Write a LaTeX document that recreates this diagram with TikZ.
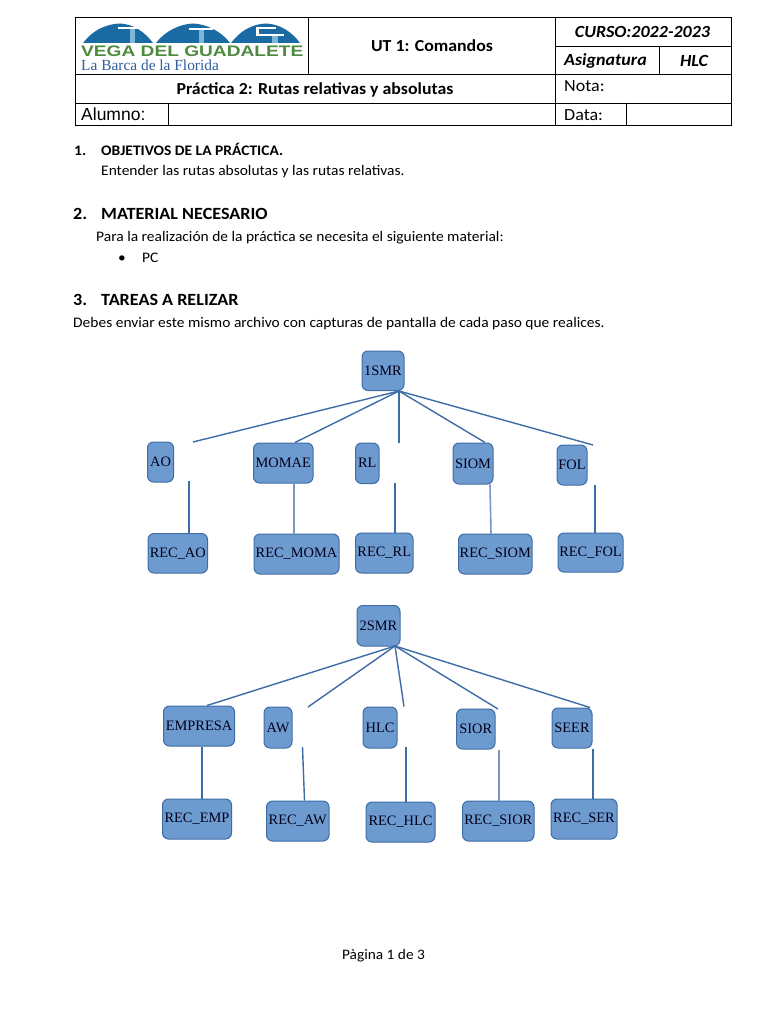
\documentclass[tikz,border=0pt]{standalone}
\usepackage{fontspec}
\setmainfont[FakeStretch=1.06]{Carlito}
\newfontfamily\arialf{Liberation Sans}
\newfontfamily\logof[FakeStretch=1.25]{Liberation Sans}
\newfontfamily\timesf{Liberation Serif}
\definecolor{boxfill}{HTML}{6D9BD0}
\definecolor{boxline}{HTML}{3E6CA6}
\definecolor{logoblue}{HTML}{1A6BA3}
\definecolor{logopale}{HTML}{7FB6D8}
\definecolor{logogreen}{HTML}{4E8B3E}
\definecolor{logotext}{HTML}{2F5F9E}
\tikzset{
  grid/.style={draw=black,line width=0.9pt},
  cell/.style={inner sep=0pt,text=black,font=\fontsize{16.8}{18}\selectfont\bfseries},
  italcell/.style={cell,font=\fontsize{17}{18}\selectfont\bfseries\itshape},
  plaincell/.style={inner sep=0pt,text=black,anchor=west,font=\fontsize{17}{19}\selectfont},
  body/.style={inner sep=0pt,anchor=base west,text=black,font=\fontsize{14.6}{16}\selectfont},
  smallhead/.style={inner sep=0pt,anchor=base west,text=black,font=\fontsize{14.6}{16}\selectfont\bfseries},
  bighead/.style={inner sep=0pt,anchor=base west,text=black,font=\fontsize{17.1}{19}\selectfont\bfseries},
  tbox/.style={draw=boxline,fill=boxfill,line width=1pt,rounded corners=6pt,inner sep=0pt,text=black!90!blue,font=\timesf\fontsize{14.4}{16}\selectfont},
  link/.style={draw=boxline,line width=1.4pt},
  palelink/.style={draw=boxline!70,line width=1.6pt},
}
\newcommand{\tb}[6]{\node[tbox,minimum width=#4pt-#2pt,minimum height=#5pt-#3pt] (#1) at ({(#2+#4)/2},{(#3+#5)/2}) {\raisebox{-0.7pt}{#6}};}
\begin{document}
\begin{tikzpicture}[x=1pt,y=-1pt]
\useasboundingbox[fill=white] (0,0) rectangle (768,1024);
% header table
\draw[grid] (75,17) rectangle (731,125);
\draw[grid] (75,74) -- (731,74);
\draw[grid] (75,103) -- (731,103);
\draw[grid] (308,17) -- (308,74);
\draw[grid] (555,17) -- (555,125);
\draw[grid] (555,46) -- (731,46);
\draw[grid] (659,46) -- (659,74);
\draw[grid] (168,103) -- (168,125);
\draw[grid] (626,103) -- (626,125);
% logo
\fill[logoblue] (83,43) .. controls (92,31) and (105,24) .. (120,23.5) .. controls (133,24) and (145,32) .. (153,43) -- cycle;
\fill[logoblue] (156,43) .. controls (165,31) and (180,24) .. (193,23.5) .. controls (207,24) and (222,32) .. (230,43) -- cycle;
\fill[logoblue] (231,43) .. controls (240,31) and (252,24) .. (266,23.5) .. controls (280,24) and (292,32) .. (300,43) -- cycle;
\fill[white] (118,27.5) rectangle (141,29.5);
\fill[logopale] (130,29.5) rectangle (135,43);
\fill[white] (189,28) rectangle (213,30);
\fill[logopale] (199,30) rectangle (204,43);
\fill[white] (256,27.5) rectangle (276,29.5);
\fill[white] (256,29.5) rectangle (259,34);
\fill[white] (256,34) rectangle (284,36);
\fill[logopale] (272,36) rectangle (278,43);
\node[inner sep=0pt,anchor=west,text=logogreen,font=\logof\bfseries\fontsize{15.3}{17}\selectfont] (logoa) at (81,51.5) {VEGA DEL GUADALETE};
\node[inner sep=0pt,anchor=west,text=logotext,font=\timesf\fontsize{15.4}{17}\selectfont] (logob) at (81,65) {La Barca de la Florida};
% cell text
\node[cell] (ut) at (432,46) {UT 1: Comandos};
\node[italcell] (curso) at (642.5,32) {CURSO:2022-2023};
\node[italcell] (asig) at (605.5,60.5) {Asignatura};
\node[italcell] (hlc) at (694,60.5) {HLC};
\node[cell] (prac) at (315,90) {Práctica 2: Rutas relativas y absolutas};
\node[plaincell] (nota) at (564,86.5) {Nota:};
\node[plaincell] (data) at (564,115) {Data:};
\node[inner sep=0pt,anchor=west,text=black,font=\arialf\fontsize{17.5}{19}\selectfont] (alumno) at (81,114) {Alumno:};
% body
\node[smallhead] (h1n) at (74,155.5) {1.};
\node[smallhead] (h1) at (101,155.5) {OBJETIVOS DE LA PRÁCTICA.};
\node[body] (t1) at (101,176) {Entender las rutas absolutas y las rutas relativas.};
\node[bighead] (h2n) at (73,219) {2.};
\node[bighead] (h2) at (101,219) {MATERIAL NECESARIO};
\node[body] (t2) at (96,241) {Para la realización de la práctica se necesita el siguiente material:};
\node[body] (bul) at (118,262) {•};
\node[body] (pc) at (142,262) {PC};
\node[bighead] (h3n) at (73,305) {3.};
\node[bighead] (h3) at (101,305) {TAREAS A RELIZAR};
\node[body] (t3) at (73,327) {Debes enviar este mismo archivo con capturas de pantalla de cada paso que realices.};
\node[inner sep=0pt,text=black,font=\fontsize{14.5}{16}\selectfont] (pag) at (383.5,955.5) {Pàgina 1 de 3};
% tree 1
\tb{smr}{362}{351}{404}{390.5}{1SMR}
\tb{ao}{147.5}{442}{173.5}{482}{AO}
\tb{momae}{253.5}{443}{313}{483}{MOMAE}
\tb{rl}{355.5}{443}{379}{483.5}{RL}
\tb{siom}{453}{443}{493}{484}{SIOM}
\tb{fol}{557}{445}{587}{485}{FOL}
\tb{rao}{148}{533.5}{207.5}{573}{REC\_AO}
\tb{rmoma}{254}{534}{339}{574}{REC\_MOMA}
\tb{rrl}{355.5}{533}{413}{573}{REC\_RL}
\tb{rsiom}{458.5}{534}{532}{574}{REC\_SIOM}
\tb{rfol}{558}{533}{623}{572}{REC\_FOL}
\coordinate (hub1) at (399,391);
\coordinate (e1a) at (193,442);
\coordinate (e1c) at (399,443);
\coordinate (e1e) at (593,445);
\coordinate (v1a) at (189,481);
\coordinate (v1c) at (395,483);
\coordinate (v1e) at (595,485);
\draw[link] (hub1) -- (e1a);
\draw[link] (hub1) -- (momae.north-|295,0);
\draw[link] (hub1) -- (e1c);
\draw[link] (hub1) -- (siom.north-|485,0);
\draw[link] (hub1) -- (e1e);
\draw[link] (v1a) -- (v1a|-rao.north);
\draw[palelink] (momae.south-|294,0) -- (rmoma.north-|294,0);
\draw[link] (v1c) -- (v1c|-rrl.north);
\draw[palelink] (siom.south-|490,0) -- (rsiom.north-|491,0);
\draw[link] (v1e) -- (v1e|-rfol.north);
% tree 2
\tb{smrb}{357}{605.5}{400}{646}{2SMR}
\tb{emp}{163.5}{706}{234.5}{746}{EMPRESA}
\tb{aw}{264}{707}{292}{748}{AW}
\tb{hlcb}{363}{707}{397}{748}{HLC}
\tb{sior}{456.5}{709}{495}{749}{SIOR}
\tb{seer}{552}{708}{592}{748}{SEER}
\tb{remp}{162.5}{799}{231.5}{839}{REC\_EMP}
\tb{raw}{266.5}{801}{329}{841}{REC\_AW}
\tb{rhlc}{366}{802}{435}{842}{REC\_HLC}
\tb{rsior}{462.5}{801}{534}{841}{REC\_SIOR}
\tb{rser}{551}{799}{617}{839}{REC\_SER}
\coordinate (hub2) at (395,646);
\coordinate (e2b) at (308,707);
\coordinate (e2c) at (404,706.5);
\coordinate (e2d) at (498,709);
\coordinate (v2b) at (302.5,747);
\coordinate (v2c) at (406,747);
\coordinate (v2d) at (499,750);
\coordinate (v2e) at (593,749);
\draw[link] (hub2) -- (emp.north-|207,0);
\draw[link] (hub2) -- (e2b);
\draw[link] (hub2) -- (e2c);
\draw[link] (hub2) -- (e2d);
\draw[link] (hub2) -- (seer.north-|590,0);
\draw[link] (emp.south-|202,0) -- (remp.north-|202,0);
\draw[link] (v2b) -- (raw.north-|304.5,0);
\draw[link] (v2c) -- (v2c|-rhlc.north);
\draw[palelink] (v2d) -- (v2d|-rsior.north);
\draw[link] (v2e) -- (v2e|-rser.north);
\end{tikzpicture}
\end{document}
